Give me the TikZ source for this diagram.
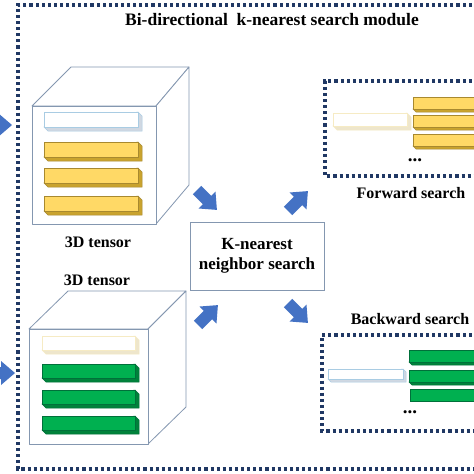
\documentclass[tikz,border=0pt]{standalone}
\usepackage{fontspec}
\setmainfont{Liberation Serif}
\definecolor{navy}{HTML}{203864}
\definecolor{cubeline}{HTML}{8497B0}
\definecolor{arrowblue}{HTML}{4472C4}
\definecolor{gold}{HTML}{FFD966}
\definecolor{golddark}{HTML}{C9A32E}
\definecolor{goldline}{HTML}{A8892F}
\definecolor{green1}{HTML}{00B050}
\definecolor{green2}{HTML}{00823B}
\definecolor{greenline}{HTML}{00703A}
\definecolor{paleblue}{HTML}{A9CCE3}
\definecolor{palegrey}{HTML}{D0D8E2}
\definecolor{cream}{HTML}{F6EBC4}
\definecolor{creamside}{HTML}{EEE6CC}
\tikzset{
  dotframe/.style={draw=navy, line width=3.1pt, dash pattern=on 3.1pt off 3pt},
  lbl/.style={font=\bfseries\fontsize{16}{18}\selectfont, inner sep=0pt, text=black},
  dotslbl/.style={font=\bfseries\fontsize{19}{20}\selectfont, inner sep=0pt, text=black},
  titlelbl/.style={font=\bfseries\fontsize{17.5}{20}\selectfont, inner sep=0pt, text=black},
  cubeface/.style={draw=cubeline, line width=0.8pt, fill=white, line join=round},
}
% x, y, w, h, d, front fill, side fill, outline
\newcommand{\cubebar}[8]{%
  \filldraw[fill=#7,draw=#8,line width=0.5pt] (#1+#3,#2) -- ++(#5,#5) -- ++(0,#4) -- ++(-#3,0) -- ++(-#5,-#5) -- cycle;
  \filldraw[fill=#6,draw=#8,line width=0.5pt] (#1,#2) rectangle ++(#3,#4);
}
% x, y, w, h, d, front fill, bottom fill, outline (chamfer at left-bottom)
\newcommand{\searchbar}[8]{%
  \filldraw[fill=#7,draw=#8,line width=0.5pt] (#1,#2+#4) -- ++(#5,#5) -- ++(#3,0) -- ++(0,-#5) -- cycle;
  \filldraw[fill=#6,draw=#8,line width=0.5pt] (#1,#2) rectangle ++(#3,#4);
}
% block arrow: centre x, centre y, angle (page orientation)
\newcommand{\blockarrow}[3]{%
  \begin{scope}[shift={(#1,#2)}, rotate=#3]
    \fill[arrowblue] (-14,-6) -- (0,-6) -- (0,-12) -- (14,0) -- (0,12) -- (0,6) -- (-14,6) -- cycle;
  \end{scope}
}
\begin{document}
\begin{tikzpicture}[x=1pt,y=-1pt]
\useasboundingbox (0,0) rectangle (474,474);
\clip (0,0) rectangle (474,474);
\fill[white] (0,0) rectangle (474,474);

% outer frame
\draw[dotframe] (490,5) -- (18,5) -- (18,469) -- (490,469);
\node[titlelbl] (title) at (272,20) {Bi-directional\ \ k-nearest\ search\ module};

% input arrows (tips at x=12 and x=15)
\blockarrow{-2}{125}{0}
\blockarrow{1}{373}{0}

% top cube
\filldraw[cubeface] (32,106) -- (71,67) -- (189,67) -- (156,106) -- cycle;
\filldraw[cubeface] (156,106) -- (189,67) -- (189,185) -- (156,224) -- cycle;
\filldraw[cubeface] (32,106) rectangle (156,224);
\cubebar{44}{112}{94}{15}{4}{white}{palegrey}{paleblue}
\cubebar{44}{142}{94}{15}{4}{gold}{golddark}{goldline}
\cubebar{44}{168}{94}{15}{4}{gold}{golddark}{goldline}
\cubebar{44}{196}{94}{15}{4}{gold}{golddark}{goldline}
\node[lbl] (t1) at (98,242) {3D tensor};

% bottom cube
\node[lbl] (t2) at (97,280) {3D tensor};
\filldraw[cubeface] (29,329) -- (68,291) -- (186,291) -- (148,329) -- cycle;
\filldraw[cubeface] (148,329) -- (186,291) -- (186,407) -- (148,444) -- cycle;
\filldraw[cubeface] (29,329) rectangle (148,444);
\cubebar{42}{336}{93}{14}{4}{white}{creamside}{cream}
\cubebar{42}{364}{93}{14}{4}{green1}{green2}{greenline}
\cubebar{42}{390}{93}{14}{4}{green1}{green2}{greenline}
\cubebar{42}{416}{93}{14}{4}{green1}{green2}{greenline}

% centre box
\node[draw=cubeline, line width=0.8pt, fill=white, minimum width=134pt, minimum height=68pt,
      align=center, inner sep=0pt, font=\bfseries\fontsize{17}{20}\selectfont] (knn) at (257,256)
      {K-nearest\\neighbor search};

% diagonal arrows
\blockarrow{207}{200}{-45}
\blockarrow{298}{201}{45}
\blockarrow{208}{315}{45}
\blockarrow{298}{313}{-45}

% forward search
\draw[dotframe] (490,81) -- (325,81) -- (325,176) -- (490,176);
\cubebar{333}{113}{74}{13}{4}{white}{creamside}{cream}
\searchbar{413}{97}{80}{12}{3}{gold}{golddark}{goldline}
\searchbar{413}{115}{80}{12}{3}{gold}{golddark}{goldline}
\searchbar{413}{134}{80}{12}{3}{gold}{golddark}{goldline}
\node[dotslbl] (fdots) at (415,160) {...};
\node[lbl] (fwd) at (411,193) {Forward search};

% backward search
\node[lbl] (bwd) at (410,319) {Backward search};
\draw[dotframe] (490,335) -- (322,335) -- (322,431) -- (490,431);
\cubebar{328}{369}{75}{10}{3}{white}{palegrey}{paleblue}
\searchbar{409}{350}{80}{12}{3}{green1}{green2}{greenline}
\searchbar{409}{370}{80}{12}{3}{green1}{green2}{greenline}
\filldraw[fill=green1, draw=greenline, line width=0.5pt] (410,389) rectangle ++(80,12);
\node[dotslbl] (bdots) at (410,412) {...};
\end{tikzpicture}
\end{document}
